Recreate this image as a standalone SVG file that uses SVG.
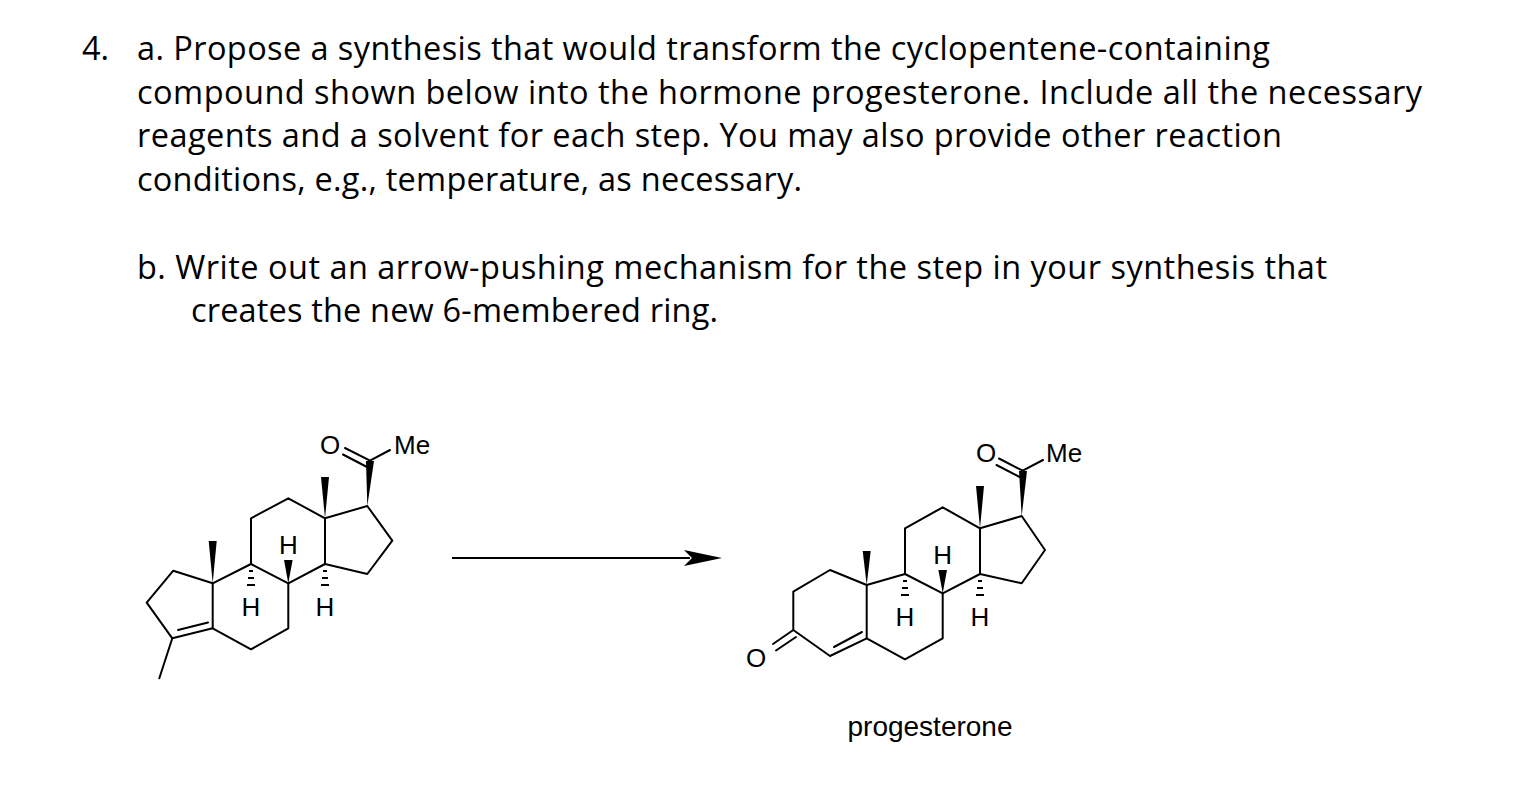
<svg xmlns="http://www.w3.org/2000/svg" width="1534" height="790" viewBox="0 0 1534 790">
<style>
.q{font-family:"Open Sans","Liberation Sans",sans-serif;font-size:32.5px;fill:#000}
.a{font-family:"Liberation Sans",Arial,sans-serif;font-size:26px;fill:#000}
.b{fill:none;stroke:#000;stroke-width:2;stroke-linejoin:round;stroke-linecap:round}
.w{fill:#000}
.h{stroke:#000;stroke-width:2}
</style>
<rect width="1534" height="790" fill="#fff"/>
<g id="question">
<text class="q" x="82" y="60">4.</text>
<text class="q" x="137" y="60" textLength="1133">a.  Propose a synthesis that would transform the cyclopentene-containing</text>
<text class="q" x="137" y="104" textLength="1285">compound shown below into the hormone progesterone.  Include all the necessary</text>
<text class="q" x="137" y="147" textLength="1145">reagents and a solvent for each step.  You may also provide other reaction</text>
<text class="q" x="137" y="191" textLength="665">conditions, e.g., temperature, as necessary.</text>
<text class="q" x="137" y="279" textLength="1190">b.  Write out an arrow-pushing mechanism for the step in your synthesis that</text>
<text class="q" x="191" y="322" textLength="527">creates the new 6-membered ring.</text>
</g>
<g id="reactant">
<path class="b" d="M212.7,583.3 L173.3,570.7 L146.7,602.7 L172.3,638.3 L212.7,628.3 Z M172.3,638.3 L159.3,678.3 M178,630 L208,622.5"/>
<path class="b" d="M212.7,583.3 L251,564 L288.3,583.3 L288.3,628.3 L251,649.3 L212.7,628.3"/>
<path class="b" d="M251,564 L251,518.3 L288.3,498.3 L325,518.3 L325,564 L288.3,583.3"/>
<path class="b" d="M325,518.3 L367.3,506 L392.3,540.7 L367.3,574 L325,564"/>
<path class="b" d="M370,460.7 L345,448 M367,467 L343,454.5 M370,460.7 L390,450"/>
<polygon class="w" points="212.7,583.3 208.7,541 216.7,541"/>
<polygon class="w" points="325,518.3 321,477 329,477"/>
<polygon class="w" points="367.3,506 366,461 374,461"/>
<polygon class="w" points="288.3,583.3 284,560 292.6,560"/>
<g class="h"><line x1="249" y1="571" x2="253" y2="571"/><line x1="248" y1="578" x2="254" y2="578"/><line x1="247" y1="585" x2="255" y2="585"/></g>
<g class="h"><line x1="323" y1="571" x2="327" y2="571"/><line x1="322" y1="578" x2="328" y2="578"/><line x1="321" y1="585" x2="329" y2="585"/></g>
<text class="a" x="251" y="616" text-anchor="middle">H</text>
<text class="a" x="288.3" y="554" text-anchor="middle">H</text>
<text class="a" x="325" y="616" text-anchor="middle">H</text>
<text class="a" x="330" y="454" text-anchor="middle">O</text>
<text class="a" x="394" y="454">Me</text>
</g>
<g id="connectors">
<line x1="452" y1="558" x2="690" y2="558" stroke="#000" stroke-width="2"/>
<polygon points="722,558 684,550 692,558 684,566" fill="#000"/>
</g>
<g id="progesterone">
<path class="b" d="M866.7,585 L830,570 L793.3,591.7 L793.3,630 L830,656 L866.7,638.3 Z M834,647 L862,632 M793.3,630 L773,644 M796,637 L776,650.5"/>
<path class="b" d="M866.7,585 L905,574 L942.7,593.3 L942.7,638.3 L905,659.3 L866.7,638.3"/>
<path class="b" d="M905,574 L905,528.3 L942.7,507.3 L980,528.3 L980,574 L942.7,593.3"/>
<path class="b" d="M980,528.3 L1021.7,516 L1045,550 L1021.7,583.3 L980,574"/>
<path class="b" d="M1022.7,470.7 L999,458.5 M1019.7,477 L996.5,465 M1022.7,470.7 L1043,460"/>
<polygon class="w" points="866.7,585 862.7,551 870.7,551"/>
<polygon class="w" points="980,528.3 976,486 984,486"/>
<polygon class="w" points="1021.7,516 1019,471 1027,471"/>
<polygon class="w" points="942.7,593.3 938.4,570 947,570"/>
<g class="h"><line x1="903" y1="581" x2="907" y2="581"/><line x1="902" y1="588" x2="908" y2="588"/><line x1="901" y1="595" x2="909" y2="595"/></g>
<g class="h"><line x1="978" y1="581" x2="982" y2="581"/><line x1="977" y1="588" x2="983" y2="588"/><line x1="976" y1="595" x2="984" y2="595"/></g>
<text class="a" x="905" y="626" text-anchor="middle">H</text>
<text class="a" x="942.7" y="564" text-anchor="middle">H</text>
<text class="a" x="980" y="626" text-anchor="middle">H</text>
<text class="a" x="756" y="667" text-anchor="middle">O</text>
<text class="a" x="986" y="462" text-anchor="middle">O</text>
<text class="a" x="1046" y="462">Me</text>
<text class="a" x="930" y="736" text-anchor="middle" style="font-size:28px">progesterone</text>
</g>
</svg>
